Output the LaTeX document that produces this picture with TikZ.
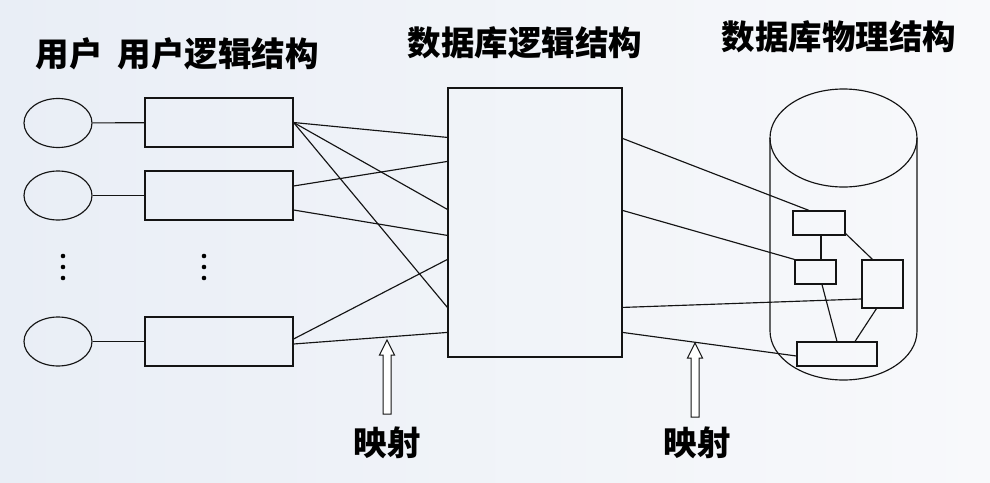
\documentclass[tikz,border=0pt]{standalone}
\usepackage{fontspec}
\newfontfamily\cjk{Noto Sans CJK SC}
\usetikzlibrary{shapes.geometric,calc}
\definecolor{bgL}{RGB}{233,238,246}
\definecolor{bgR}{RGB}{248,249,251}
\definecolor{ink}{RGB}{20,20,20}
\tikzset{
  ln/.style={draw=ink, line width=1.15pt},
  user/.style={ln, ellipse, minimum width=68pt, minimum height=49pt, inner sep=0pt},
  ubox/.style={ln, rectangle, minimum width=148pt, minimum height=49pt, inner sep=0pt},
  pbox/.style={ln, rectangle, inner sep=0pt},
  title/.style={font=\cjk\bfseries\fontsize{33.5}{38}\selectfont, text=black, inner sep=0pt},
  vdot/.style={fill=black, circle, inner sep=0pt, minimum size=4.6pt},
  hollow/.style={draw=ink, line width=1pt, fill=white, line join=miter}
}
\begin{document}
\begin{tikzpicture}[x=1pt,y=-1pt]
\useasboundingbox (0,0) rectangle (990,482);
\shade[left color=bgL, right color=bgR] (0,0) rectangle (990,482);

% titles
\node[title] (t1) at (69,54) {用户};
\node[title] (t2) at (218,54) {用户逻辑结构};
\node[title] (t3) at (525,43) {数据库逻辑结构};
\node[title] (t4) at (839,37) {数据库物理结构};

% users and user logical structures
\node[user] (u1) at (58,123) {};
\node[user] (u2) at (58,195.5) {};
\node[user] (u3) at (58,341.5) {};
\node[ubox] (r1) at (219,122.5) {};
\node[ubox] (r2) at (219,195.5) {};
\node[ubox] (r3) at (219,341.5) {};
\draw[ln] (u1) -- (r1);
\draw[ln] (u2) -- (r2);
\draw[ln] (u3) -- (r3);

% vertical dots
\foreach \x/\n in {63/a,204/b}{
  \node[vdot] (d\n1) at (\x,256) {};
  \node[vdot] (d\n2) at (\x,267) {};
  \node[vdot] (d\n3) at (\x,278) {};
}

% database logical structure
\node[pbox, minimum width=174pt, minimum height=269pt] (B) at (535,222.5) {};

\draw[ln] (r1.east) -- ($(B.north west)+(0,50)$);
\draw[ln] (r1.east) -- ($(B.north west)+(0,122)$);
\draw[ln] (r1.east) -- ($(B.north west)+(0,220)$);
\draw[ln] ($(r2.east)+(0,-9.5)$) -- ($(B.north west)+(0,74)$);
\draw[ln] ($(r2.east)+(0,14.5)$) -- ($(B.north west)+(0,148)$);
\draw[ln] ($(r3.east)+(0,-2.5)$) -- ($(B.north west)+(0,172)$);
\draw[ln] ($(r3.east)+(0,2.5)$) -- ($(B.north west)+(0,245)$);

% cylinder (physical storage)
\draw[ln] (843.5,138) ellipse[x radius=73.5, y radius=49];
\draw[ln] (770,138) -- (770,331) arc[start angle=180, end angle=0, x radius=73.5, y radius=49] -- (917,138);

% physical records
\node[pbox, minimum width=52pt, minimum height=24pt] (A) at (819,223) {};
\node[pbox, minimum width=41pt, minimum height=24pt] (P) at (815.5,272) {};
\node[pbox, minimum width=41pt, minimum height=48pt] (C) at (882.5,284) {};
\node[pbox, minimum width=80pt, minimum height=24pt] (D) at (837,354) {};
\draw[ln] ($(A.south)+(2,0)$) -- ($(P.north)+(5.5,0)$);
\draw[ln] ($(A.south east)+(0,-2)$) -- ($(C.north)+(-10,0)$);
\draw[ln] ($(P.south)+(6.5,0)$) -- (D.north);
\draw[ln] ($(C.south)+(-6,0)$) -- ($(D.north)+(18,0)$);

\draw[ln] ($(B.north east)+(0,51)$) -- ($(A.north)+(-10,0)$);
\draw[ln] ($(B.north east)+(0,123)$) -- (P.north west);
\draw[ln] ($(B.north east)+(0,220)$) -- ($(C.west)+(0,15)$);
\draw[ln] ($(B.north east)+(0,245)$) -- ($(D.west)+(0,2)$);

% mapping arrows
\coordinate (m1) at (387,340);
\coordinate (m2) at (695,343);
\foreach \m in {m1,m2}{
  \draw[hollow] (\m) -- ++(7.5,15) -- ++(-3.5,0) -- ++(0,59) -- ++(-8,0) -- ++(0,-59) -- ++(-3.5,0) -- cycle;
}
\node[title] (k1) at (387,443) {映射};
\node[title] (k2) at (697,443) {映射};
\end{tikzpicture}
\end{document}
